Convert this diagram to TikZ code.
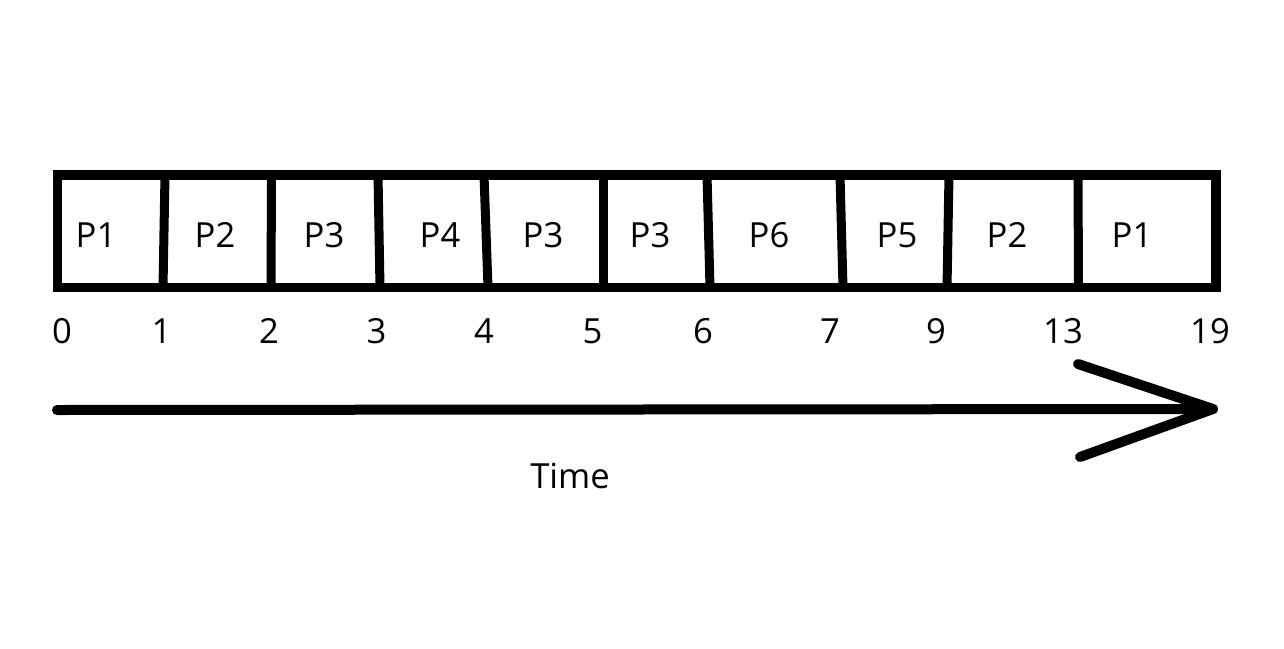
\documentclass[tikz,border=0pt]{standalone}
\usepackage{fontspec}
\setmainfont{Open Sans}
\begin{document}
\begin{tikzpicture}[x=1pt,y=-1pt,
  frame/.style={line width=9.5pt, line join=miter},
  divider/.style={line width=9pt},
  lbl/.style={anchor=base, inner sep=0pt, font=\fontsize{34.6}{40}\selectfont},
  arrowline/.style={line width=10pt, line cap=round, line join=round}]
\useasboundingbox[fill=white] (0,0) rectangle (1284,648);
% frame
\coordinate (tl) at (57.5,175);
\coordinate (br) at (1216,287.7);
\draw[frame] (tl) rectangle (br);
% dividers (top x / bottom x)
\foreach \n/\xt/\xb in {a/165/163, b/271.5/271, c/378/380, d/484/488, e/603/603,
                        f/707/710, g/840/843, h/949/947, i/1078/1078.5}{
  \coordinate (t\n) at (\xt,175);
  \coordinate (b\n) at (\xb,287.7);
  \draw[divider] (t\n) -- (b\n);
}
% process labels
\node[lbl] (p1) at (96,247) {P1};
\node[lbl] (p2) at (215,247) {P2};
\node[lbl] (p3) at (324,247) {P3};
\node[lbl] (p4) at (440,247) {P4};
\node[lbl] (p5) at (543,247) {P3};
\node[lbl] (p6) at (650,247) {P3};
\node[lbl] (p7) at (769,247) {P6};
\node[lbl] (p8) at (897,247) {P5};
\node[lbl] (p9) at (1007,247) {P2};
\node[lbl] (p10) at (1132,247) {P1};
% time ticks
\node[lbl] (n0) at (62,343) {0};
\node[lbl] (n1) at (161.5,343) {1};
\node[lbl] (n2) at (269,343) {2};
\node[lbl] (n3) at (376.5,343) {3};
\node[lbl] (n4) at (484,343) {4};
\node[lbl] (n5) at (592.6,343) {5};
\node[lbl] (n6) at (703,343) {6};
\node[lbl] (n7) at (830,343) {7};
\node[lbl] (n9) at (936,343) {9};
\node[lbl] (n13) at (1063,343) {13};
\node[lbl] (n19) at (1210,343) {19};
% time arrow
\coordinate (as) at (57,410);
\coordinate (at) at (1213,409);
\coordinate (hu) at (1078,364);
\coordinate (hl) at (1080,457);
\draw[arrowline] (as) -- (at);
\draw[arrowline] (hu) -- (at) -- (hl);
\node[lbl] (time) at (570,488.7) {Time};
\end{tikzpicture}
\end{document}
